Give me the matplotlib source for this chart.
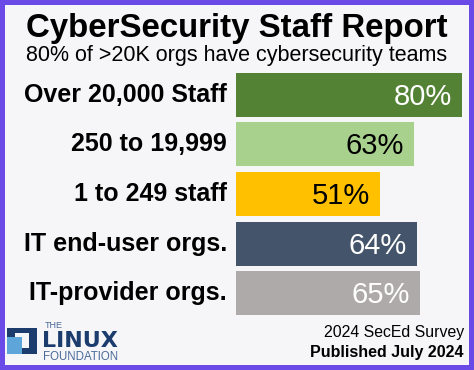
import matplotlib
matplotlib.use('Agg')
from matplotlib import pyplot as plt
from matplotlib.patches import Rectangle

plt.rcParams['font.family'] = ['Liberation Sans', 'DejaVu Sans']

# chart data
categories = ['Over 20,000 Staff', '250 to 19,999', '1 to 249 staff',
              'IT end-user orgs.', 'IT-provider orgs.']
values = [80, 63, 51, 64, 65]
bar_colors = ['#548235', '#a9d18e', '#ffc000', '#44546a', '#aeaaaa']
text_colors = ['white', 'black', 'black', 'white', 'white']
title = 'CyberSecurity Staff Report'
subtitle = '80% of >20K orgs have cybersecurity teams'

W, H = 474, 370
fig = plt.figure(figsize=(W / 100, H / 100), dpi=100)
fig.patch.set_facecolor('#6b4be8')

# light panel inside the purple frame
fig.patches.append(Rectangle((5 / W, 5 / H), 1 - 10 / W, 1 - 10 / H,
                             transform=fig.transFigure, facecolor='#f6f6f8',
                             edgecolor='none', zorder=-5))

# bar axes: pixel 236..466 horizontally, 70..318 vertically
ax = fig.add_axes([236 / W, 1 - 318 / H, 230 / W, 248 / H])
ax.set_zorder(3)
ax.set_facecolor('none')
ypos = list(range(len(categories)))
ax.barh(ypos, values, height=0.89, color=bar_colors)
ax.set_xlim(0, 230 / 2.825)
ax.set_ylim(4.5, -0.5)
for sp in ax.spines.values():
    sp.set_visible(False)
ax.set_xticks([])
ax.set_yticks([])

for y, v, c, lab in zip(ypos, values, text_colors, categories):
    ax.annotate(f'{v}%', xy=(v, y), xytext=(-10, -2),
                textcoords='offset pixels', ha='right', va='center',
                fontsize=21, color=c)
    ax.annotate(lab, xy=(0, y), xytext=(-9, 0), textcoords='offset pixels',
                ha='right', va='center', fontsize=18, fontweight='bold',
                color='black', annotation_clip=False)

fig.text(0.5, 1 - 28 / H, title, ha='center', va='center', fontsize=23.8,
         fontweight='bold')
fig.text(0.5, 1 - 55 / H, subtitle, ha='center', va='center', fontsize=15.5)

fig.text(464 / W, 1 - 333 / H, '2024 SecEd Survey', ha='right', va='center',
         fontsize=11.4)
fig.text(464 / W, 1 - 353 / H, 'Published July 2024', ha='right',
         va='center', fontsize=11.5, fontweight='bold')

# Linux Foundation logo
navy = '#1d3c6e'
lblue = '#5ea6d9'
fig.patches.append(Rectangle((7 / W, 1 - 354 / H), 30 / W, 26 / H,
                             transform=fig.transFigure, facecolor=navy,
                             edgecolor='none'))
fig.patches.append(Rectangle((15 / W, 1 - 348 / H), 14 / W, 15 / H,
                             transform=fig.transFigure, facecolor='#f6f6f8',
                             edgecolor='none'))
fig.patches.append(Rectangle((7 / W, 1 - 354 / H), 15 / W, 17 / H,
                             transform=fig.transFigure, facecolor=lblue,
                             edgecolor='none'))
fig.text(45 / W, 1 - 325 / H, 'THE', ha='left', va='center', fontsize=6.5,
         color='#4a6a9a')
fig.text(42 / W, 1 - 341 / H, 'LINUX', ha='left', va='center', fontsize=16,
         fontweight='bold', color=navy, family='DejaVu Sans')
fig.text(43 / W, 1 - 357.5 / H, 'FOUNDATION', ha='left', va='center',
         fontsize=8.3, color='#4a6a9a')

fig.savefig('out.png', dpi=100, facecolor=fig.get_facecolor())
